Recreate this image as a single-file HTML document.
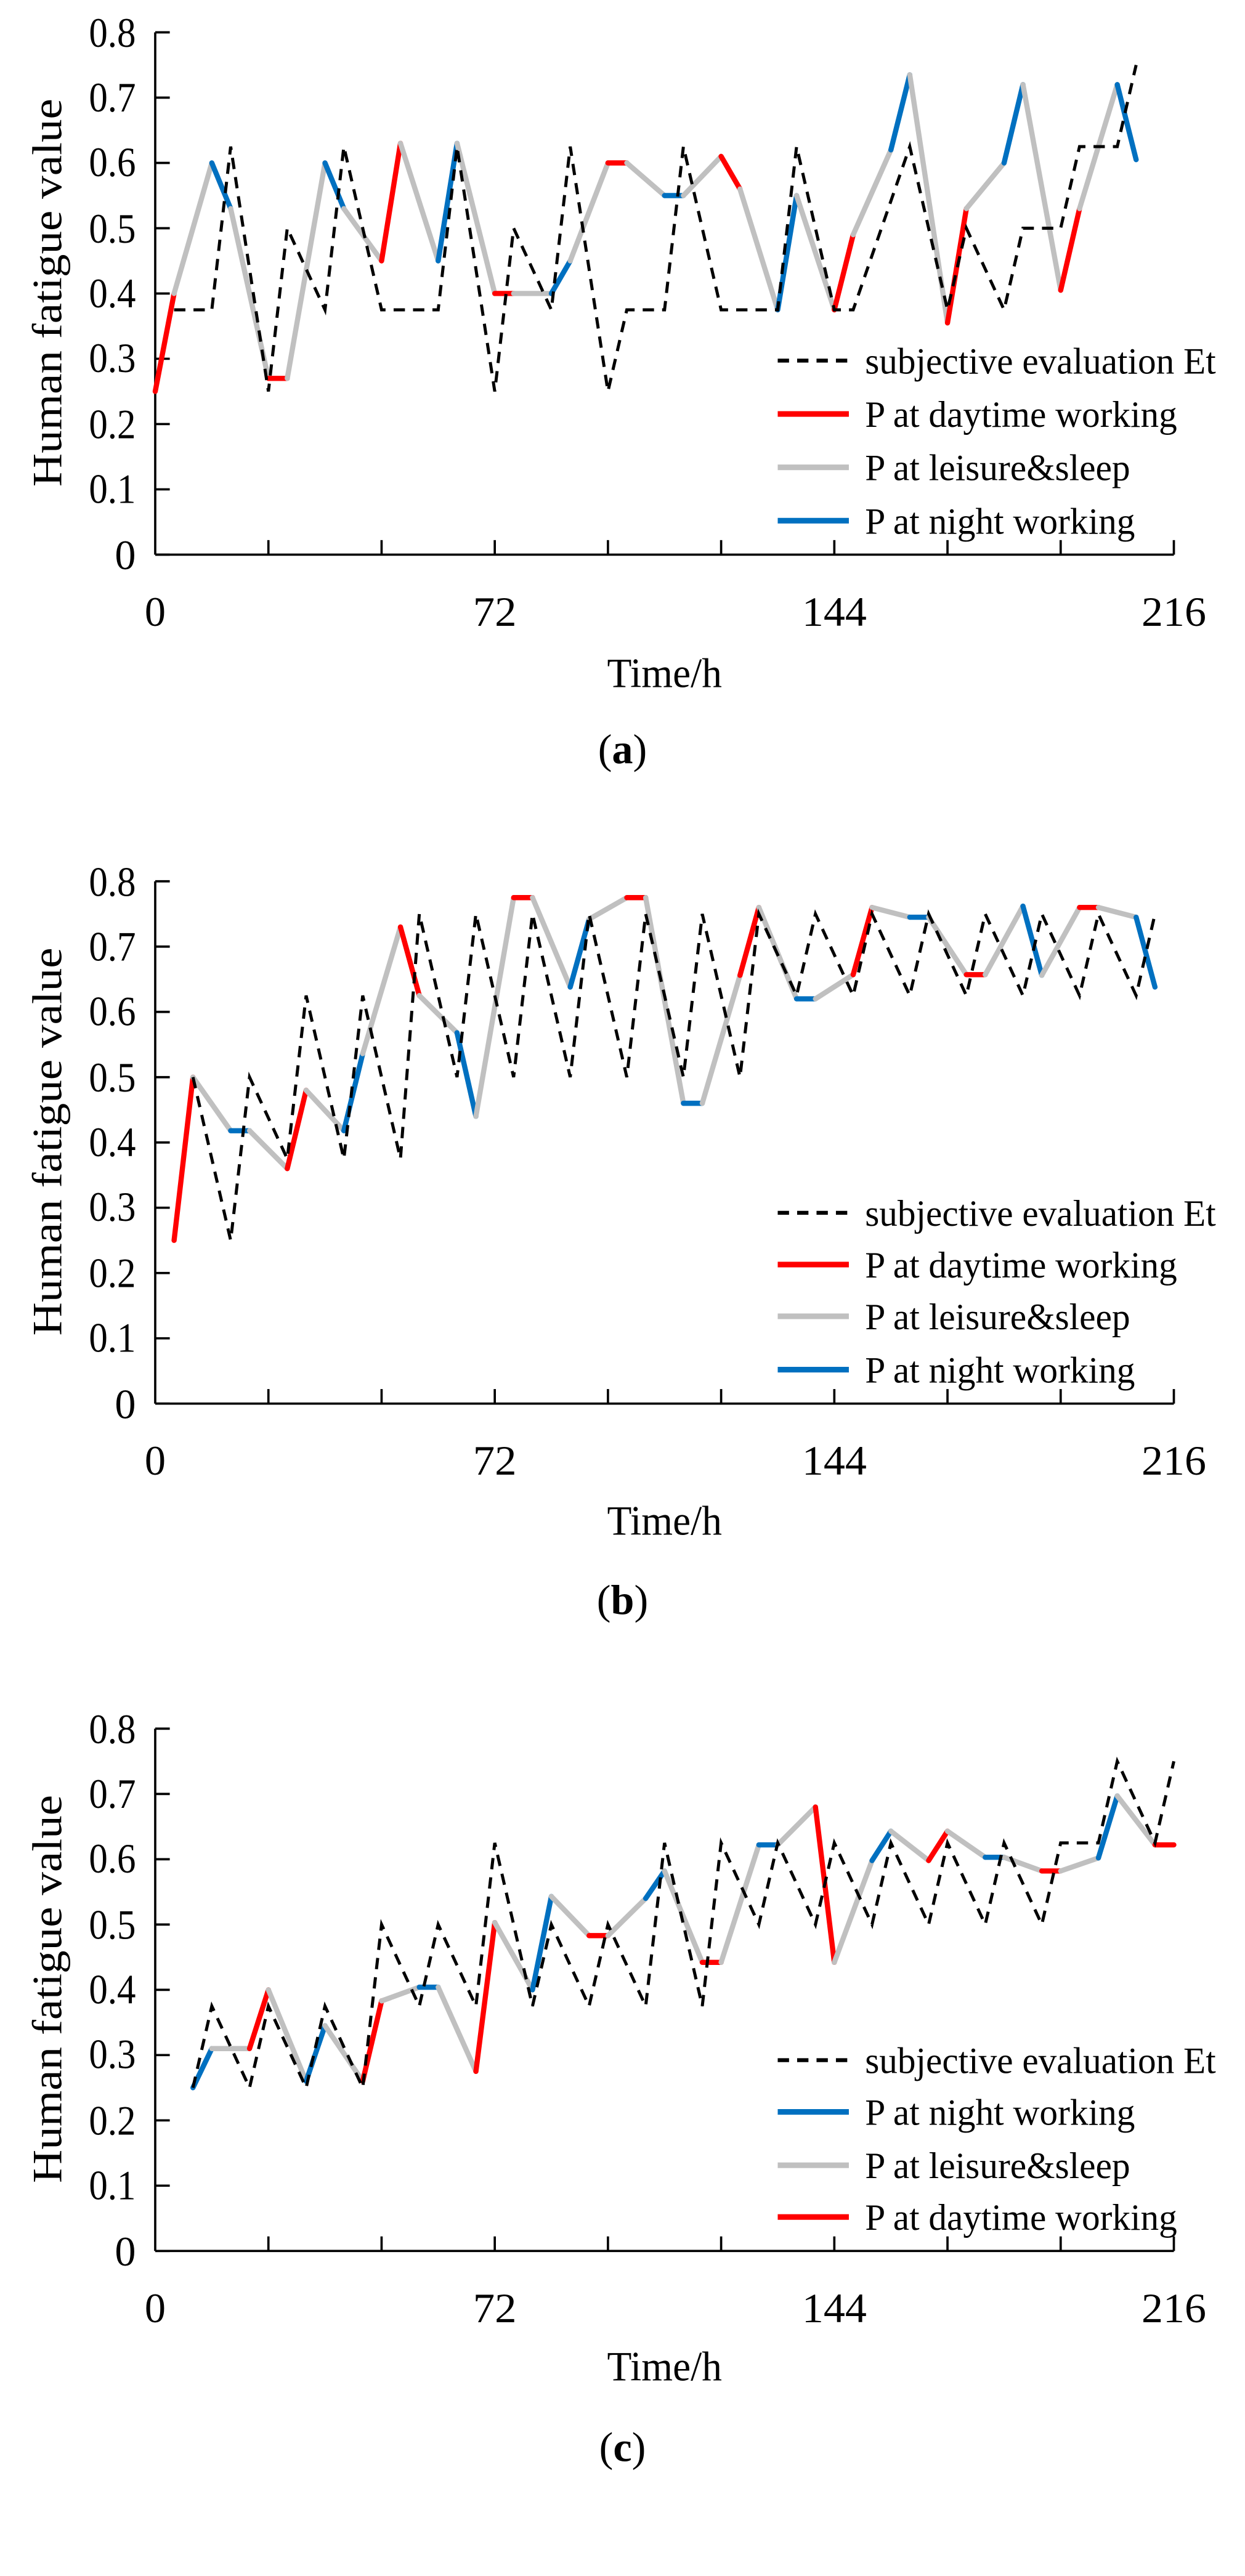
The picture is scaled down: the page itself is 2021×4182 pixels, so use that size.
<!DOCTYPE html>
<html><head><meta charset="utf-8"><style>
html,body{margin:0;padding:0;background:#fff;}
svg{display:block;}
text{font-family:"Liberation Serif",serif;fill:#000;}
</style></head><body>
<svg id="s" width="2021" height="4182" viewBox="0 0 770 1593" preserveAspectRatio="none" xmlns="http://www.w3.org/2000/svg">
<g id="g"></g>
<g font-size="26" text-anchor="end" lengthAdjust="spacingAndGlyphs">
<text x="84" y="352">0</text><text x="84" y="311" textLength="29" lengthAdjust="spacingAndGlyphs">0.1</text><text x="84" y="271" textLength="29" lengthAdjust="spacingAndGlyphs">0.2</text><text x="84" y="230" textLength="29" lengthAdjust="spacingAndGlyphs">0.3</text><text x="84" y="190" textLength="29" lengthAdjust="spacingAndGlyphs">0.4</text><text x="84" y="150" textLength="29" lengthAdjust="spacingAndGlyphs">0.5</text><text x="84" y="109" textLength="29" lengthAdjust="spacingAndGlyphs">0.6</text><text x="84" y="69" textLength="29" lengthAdjust="spacingAndGlyphs">0.7</text><text x="84" y="29" textLength="29" lengthAdjust="spacingAndGlyphs">0.8</text>
<text x="84" y="877">0</text><text x="84" y="836" textLength="29" lengthAdjust="spacingAndGlyphs">0.1</text><text x="84" y="796" textLength="29" lengthAdjust="spacingAndGlyphs">0.2</text><text x="84" y="755" textLength="29" lengthAdjust="spacingAndGlyphs">0.3</text><text x="84" y="715" textLength="29" lengthAdjust="spacingAndGlyphs">0.4</text><text x="84" y="675" textLength="29" lengthAdjust="spacingAndGlyphs">0.5</text><text x="84" y="634" textLength="29" lengthAdjust="spacingAndGlyphs">0.6</text><text x="84" y="594" textLength="29" lengthAdjust="spacingAndGlyphs">0.7</text><text x="84" y="554" textLength="29" lengthAdjust="spacingAndGlyphs">0.8</text>
<text x="84" y="1401">0</text><text x="84" y="1360" textLength="29" lengthAdjust="spacingAndGlyphs">0.1</text><text x="84" y="1320" textLength="29" lengthAdjust="spacingAndGlyphs">0.2</text><text x="84" y="1279" textLength="29" lengthAdjust="spacingAndGlyphs">0.3</text><text x="84" y="1239" textLength="29" lengthAdjust="spacingAndGlyphs">0.4</text><text x="84" y="1199" textLength="29" lengthAdjust="spacingAndGlyphs">0.5</text><text x="84" y="1158" textLength="29" lengthAdjust="spacingAndGlyphs">0.6</text><text x="84" y="1118" textLength="29" lengthAdjust="spacingAndGlyphs">0.7</text><text x="84" y="1078" textLength="29" lengthAdjust="spacingAndGlyphs">0.8</text>
</g>
<g font-size="26" text-anchor="middle">
<text x="96" y="387">0</text><text x="306" y="387" textLength="27" lengthAdjust="spacingAndGlyphs">72</text><text x="516" y="387" textLength="40" lengthAdjust="spacingAndGlyphs">144</text><text x="726" y="387" textLength="40" lengthAdjust="spacingAndGlyphs">216</text>
<text x="96" y="912">0</text><text x="306" y="912" textLength="27" lengthAdjust="spacingAndGlyphs">72</text><text x="516" y="912" textLength="40" lengthAdjust="spacingAndGlyphs">144</text><text x="726" y="912" textLength="40" lengthAdjust="spacingAndGlyphs">216</text>
<text x="96" y="1436">0</text><text x="306" y="1436" textLength="27" lengthAdjust="spacingAndGlyphs">72</text><text x="516" y="1436" textLength="40" lengthAdjust="spacingAndGlyphs">144</text><text x="726" y="1436" textLength="40" lengthAdjust="spacingAndGlyphs">216</text>
<text x="411" y="425" textLength="71" lengthAdjust="spacingAndGlyphs">Time/h</text><text x="411" y="949" textLength="71" lengthAdjust="spacingAndGlyphs">Time/h</text><text x="411" y="1472" textLength="71" lengthAdjust="spacingAndGlyphs">Time/h</text>
<text x="385" y="472">(<tspan font-weight="bold">a</tspan>)</text>
<text x="385" y="998">(<tspan font-weight="bold">b</tspan>)</text>
<text x="385" y="1522">(<tspan font-weight="bold">c</tspan>)</text>
<text transform="translate(38,181) rotate(-90)" font-size="26" textLength="240" lengthAdjust="spacingAndGlyphs">Human fatigue value</text>
<text transform="translate(38,706) rotate(-90)" font-size="26" textLength="240" lengthAdjust="spacingAndGlyphs">Human fatigue value</text>
<text transform="translate(38,1230) rotate(-90)" font-size="26" textLength="240" lengthAdjust="spacingAndGlyphs">Human fatigue value</text>
</g>
<g font-size="23">
<text x="535" y="231" textLength="217" lengthAdjust="spacingAndGlyphs">subjective evaluation Et</text>
<text x="535" y="264" textLength="193" lengthAdjust="spacingAndGlyphs">P at daytime working</text>
<text x="535" y="297" textLength="164" lengthAdjust="spacingAndGlyphs">P at leisure&amp;sleep</text>
<text x="535" y="330" textLength="167" lengthAdjust="spacingAndGlyphs">P at night working</text>
<text x="535" y="758" textLength="217" lengthAdjust="spacingAndGlyphs">subjective evaluation Et</text>
<text x="535" y="790" textLength="193" lengthAdjust="spacingAndGlyphs">P at daytime working</text>
<text x="535" y="822" textLength="164" lengthAdjust="spacingAndGlyphs">P at leisure&amp;sleep</text>
<text x="535" y="855" textLength="167" lengthAdjust="spacingAndGlyphs">P at night working</text>
<text x="535" y="1282" textLength="217" lengthAdjust="spacingAndGlyphs">subjective evaluation Et</text>
<text x="535" y="1314" textLength="167" lengthAdjust="spacingAndGlyphs">P at night working</text>
<text x="535" y="1347" textLength="164" lengthAdjust="spacingAndGlyphs">P at leisure&amp;sleep</text>
<text x="535" y="1379" textLength="193" lengthAdjust="spacingAndGlyphs">P at daytime working</text>
</g>
</svg>
<script>
(function(){
var NS="http://www.w3.org/2000/svg",g=document.getElementById("g");
function el(n,a){var e=document.createElementNS(NS,n);for(var k in a)e.setAttribute(k,a[k]);g.appendChild(e);return e;}
var RED="#ff0000",BLUE="#0070c0",GRAY="#c0c0c0";
function X(h){return 96+h*630/216;}
var panels=[
{y0:343,
 et:[[4,.375],[12,.375],[16,.625],[24,.25],[28,.5],[36,.375],[40,.625],[48,.375],[60,.375],[64,.625],[72,.25],[76,.5],[84,.375],[88,.625],[96,.25],[100,.375],[108,.375],[112,.625],[120,.375],[132,.375],[136,.625],[144,.375],[148,.375],[160,.625],[168,.375],[172,.5],[180,.375],[184,.5],[192,.5],[196,.625],[204,.625],[208,.75]],
 p:[[0,.25],[4,.40],[12,.6],[16,.53],[24,.27],[28,.27],[36,.6],[40,.53],[48,.45],[52,.63],[60,.45],[64,.63],[72,.40],[76,.40],[84,.40],[88,.45],[96,.6],[100,.6],[108,.55],[112,.55],[120,.61],[124,.56],[132,.375],[136,.55],[144,.375],[148,.49],[156,.62],[160,.735],[168,.355],[172,.53],[180,.6],[184,.72],[192,.405],[196,.53],[204,.72],[208,.605]],
 red:0,blue:12,legend:[[223,"d"],[256,RED],[289,GRAY],[322,BLUE]]},
{y0:868,
 et:[[8,.5],[16,.25],[20,.5],[28,.375],[32,.625],[40,.375],[44,.625],[52,.375],[56,.75],[64,.5],[68,.75],[76,.5],[80,.75],[88,.5],[92,.75],[100,.5],[104,.75],[112,.5],[116,.75],[124,.5],[128,.75],[136,.625],[140,.75],[148,.625],[152,.75],[160,.625],[164,.75],[172,.625],[176,.75],[184,.625],[188,.75],[196,.625],[200,.75],[208,.625],[212,.75]],
 p:[[4,.25],[8,.5],[16,.418],[20,.418],[28,.36],[32,.48],[40,.418],[44,.536],[52,.73],[56,.625],[64,.568],[68,.44],[76,.775],[80,.775],[88,.638],[92,.742],[100,.775],[104,.775],[112,.46],[116,.46],[124,.656],[128,.76],[136,.62],[140,.62],[148,.657],[152,.76],[160,.745],[164,.745],[172,.657],[176,.657],[184,.762],[188,.656],[196,.76],[200,.76],[208,.745],[212,.638]],
 red:4,blue:16,legend:[[750,"d"],[782,RED],[814,GRAY],[847,BLUE]]},
{y0:1392,
 et:[[8,.25],[12,.375],[20,.25],[24,.375],[32,.25],[36,.375],[44,.25],[48,.5],[56,.375],[60,.5],[68,.375],[72,.625],[80,.375],[84,.5],[92,.375],[96,.5],[104,.375],[108,.625],[116,.375],[120,.625],[128,.5],[132,.625],[140,.5],[144,.625],[152,.5],[156,.625],[164,.5],[168,.625],[176,.5],[180,.625],[188,.5],[192,.625],[200,.625],[204,.75],[212,.625],[216,.75]],
 p:[[8,.25],[12,.31],[20,.31],[24,.40],[32,.26],[36,.345],[44,.26],[48,.383],[56,.404],[60,.404],[68,.275],[72,.503],[80,.4],[84,.543],[92,.483],[96,.483],[104,.54],[108,.582],[116,.442],[120,.442],[128,.622],[132,.622],[140,.68],[144,.442],[152,.598],[156,.643],[164,.598],[168,.643],[176,.603],[180,.603],[188,.582],[192,.582],[200,.602],[204,.697],[212,.622],[216,.622]],
 red:20,blue:8,legend:[[1274,"d"],[1306,BLUE],[1339,GRAY],[1371,RED]]}
];
panels.forEach(function(P){
 var y0=P.y0;function Y(v){return y0-v*403.75;}
 el("line",{x1:96,y1:Y(0.8),x2:96,y2:y0,stroke:"#000","stroke-width":1.4});
 el("line",{x1:96,y1:y0,x2:726,y2:y0,stroke:"#000","stroke-width":1.4});
 for(var i=0;i<=8;i++)el("line",{x1:96,y1:Y(i/10),x2:105,y2:Y(i/10),stroke:"#000","stroke-width":1.4});
 for(var h=24;h<=216;h+=24)el("line",{x1:X(h),y1:y0,x2:X(h),y2:y0-9,stroke:"#000","stroke-width":1.4});
 for(var j=0;j<P.p.length-1;j++){
  var a=P.p[j],b=P.p[j+1],m=a[0]%24,c=GRAY;
  if(m===P.red)c=RED;else if(m===P.blue)c=BLUE;
  el("line",{x1:X(a[0]),y1:Y(a[1]),x2:X(b[0]),y2:Y(b[1]),stroke:c,"stroke-width":3.2,"stroke-linecap":"round"});
 }
 el("polyline",{points:P.et.map(function(q){return X(q[0])+","+Y(q[1]);}).join(" "),fill:"none",stroke:"#000","stroke-width":1.9,"stroke-dasharray":"7,5"});
 P.legend.forEach(function(L){
  if(L[1]==="d")el("line",{x1:481,y1:L[0],x2:525,y2:L[0],stroke:"#000","stroke-width":2.4,"stroke-dasharray":"7,5"});
  else el("line",{x1:481,y1:L[0],x2:525,y2:L[0],stroke:L[1],"stroke-width":3.5});
 });
});
})();
</script>
</body></html>
